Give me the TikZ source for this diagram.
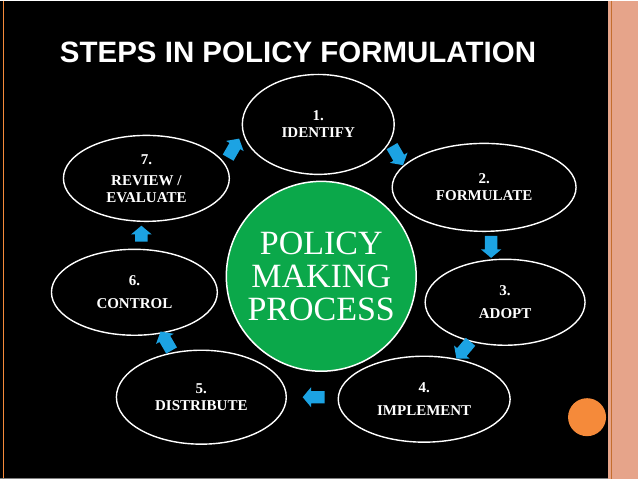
\documentclass[tikz,border=0pt]{standalone}
\usepackage{fontspec}
\setmainfont{Liberation Serif}
\newfontfamily\titlefont{Liberation Sans}
\usetikzlibrary{shapes.geometric,shapes.arrows}
\definecolor{ablue}{HTML}{1CA3E3}
\definecolor{pgreen}{HTML}{0BA84A}
\definecolor{salmon}{HTML}{E6A48A}
\definecolor{dot}{HTML}{F58A3A}
\tikzset{
  stepell/.style={ellipse, draw=white, line width=1.4pt, inner sep=0pt, align=center, text=white, font=\bfseries\fontsize{15}{17}\selectfont},
  flow/.style={single arrow, fill=ablue, draw=none, minimum height=22pt, inner xsep=0pt, inner ysep=6pt, single arrow head extend=4pt, single arrow tip angle=100}
}
\begin{document}
\begin{tikzpicture}[x=1pt,y=-1pt]
\fill[black] (0,0) rectangle (638,479);
\fill[salmon] (608,0) rectangle (638,479);
\draw[dot!80!black, line width=1pt] (611,0) -- (611,479);
\draw[dot, line width=1pt] (3,0) -- (3,479);
\draw[gray, line width=1pt] (0,478) -- (608,478);
\useasboundingbox (0,0) rectangle (638,479);
\node[anchor=west, text=white, font=\titlefont\bfseries\fontsize{29.5}{31}\selectfont] (title) at (56,52) {STEPS IN POLICY FORMULATION};
\node[circle, fill=pgreen, draw=white, line width=1.5pt, minimum size=190pt, inner sep=0pt, align=center, text=white, font=\fontsize{34}{33}\selectfont] (c) at (321,276) {POLICY\\MAKING\\PROCESS};
\node[stepell, minimum width=152pt, minimum height=100pt] (s1) at (318,124) {1.\\IDENTIFY};
\node[stepell, minimum width=184pt, minimum height=88pt] (s2) at (484,187) {2.\\FORMULATE};
\node[stepell, minimum width=160pt, minimum height=86pt] (s3) at (505,302) {3.\\[6pt]ADOPT};
\node[stepell, minimum width=172pt, minimum height=86pt] (s4) at (424,399) {4.\\[6pt]IMPLEMENT};
\node[stepell, minimum width=170pt, minimum height=94pt] (s5) at (201,397) {5.\\DISTRIBUTE};
\node[stepell, minimum width=166pt, minimum height=86pt] (s6) at (134,292) {6.\\[6pt]CONTROL};
\node[stepell, minimum width=166pt, minimum height=86pt] (s7) at (146,178) {7.\\[4pt]REVIEW /\\EVALUATE};
\node[flow, rotate=60] (a71) at (232,150) {};
\node[flow, rotate=-60] (a12) at (396,153) {};
\node[flow, rotate=-90] (a23) at (491,244) {};
\node[flow, rotate=-130] (a34) at (465,348) {};
\node[flow, rotate=180] (a45) at (316,397) {};
\node[flow, rotate=120] (a56) at (167,343) {};
\node[flow, rotate=90, minimum height=16pt] (a67) at (141,236) {};
\fill[dot] (587,417) circle (19);
\end{tikzpicture}
\end{document}
